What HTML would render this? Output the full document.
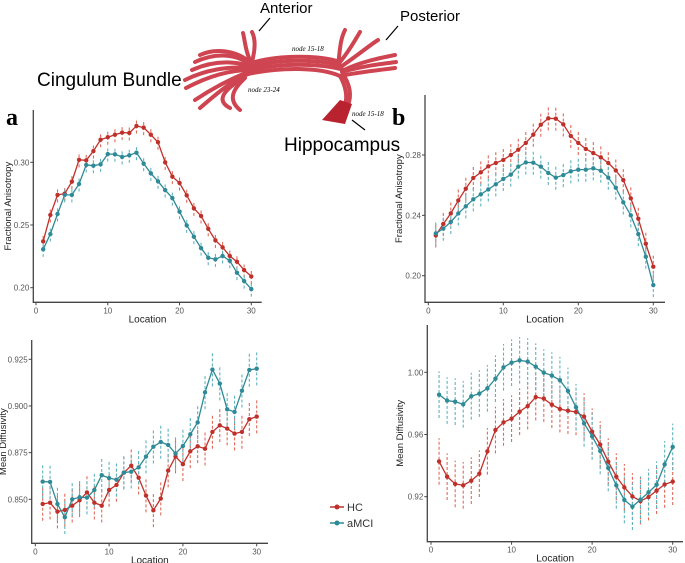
<!DOCTYPE html>
<html><head><meta charset="utf-8">
<style>
body{margin:0;background:#fff;}
svg{display:block;font-family:"Liberation Sans",sans-serif;}
</style></head>
<body>
<svg id="fig" width="685" height="563" viewBox="0 0 685 563">
<g id="illus">
  <g stroke="#c9303f" stroke-width="4" fill="none" stroke-linecap="round" opacity="0.9">
    <path d="M255 62 C280 55 320 55 340 62"/>
    <path d="M252 66 C280 59 320 59 342 66"/>
    <path d="M250 70 C280 63 320 63 344 70"/>
    <path d="M248 74 C280 67 320 67 340 76"/>
    <path d="M250 62 C235 50 215 48 200 55"/>
    <path d="M250 64 C232 52 212 54 195 62"/>
    <path d="M250 66 C230 60 210 62 192 70"/>
    <path d="M250 68 C228 66 205 70 185 80"/>
    <path d="M250 70 C228 70 205 78 186 88"/>
    <path d="M248 74 C230 82 215 95 200 108"/>
    <path d="M248 72 C228 80 210 90 195 100"/>
    <path d="M250 60 C245 50 245 40 243 33"/>
    <path d="M252 62 C255 50 256 40 252 32"/>
    <path d="M240 80 C225 90 215 100 230 108"/>
    <path d="M245 78 C232 90 228 100 240 110"/>
    <path d="M340 62 C350 50 355 40 360 32"/>
    <path d="M342 66 C358 55 370 45 378 40"/>
    <path d="M344 70 C360 62 380 58 395 55"/>
    <path d="M340 76 C360 72 380 70 395 68"/>
    <path d="M342 72 C362 66 382 64 396 62"/>
    <path d="M338 66 C340 50 340 40 345 30"/>
    <path d="M340 76 C345 85 348 95 345 105"/>
    <path d="M343 74 C350 85 352 95 348 105"/>
  </g>
  <path d="M340 100 L352 104 L345 124 L322 120 Z" fill="#b8232f"/>
  <text x="260" y="13" font-size="15">Anterior</text>
  <line x1="270" y1="18" x2="259" y2="31" stroke="#000" stroke-width="1.2"/>
  <text x="400" y="21" font-size="15">Posterior</text>
  <line x1="398" y1="26" x2="386" y2="40" stroke="#000" stroke-width="1.2"/>
  <text x="37" y="86" font-size="19">Cingulum Bundle</text>
  <text x="292" y="51" font-size="7" font-style="italic" font-family="Liberation Serif,serif">node 15-18</text>
  <text x="248" y="92" font-size="7" font-style="italic" font-family="Liberation Serif,serif">node 23-24</text>
  <text x="352" y="116" font-size="7" font-style="italic" font-family="Liberation Serif,serif">node 15-18</text>
  <line x1="365" y1="130" x2="352" y2="120" stroke="#000" stroke-width="1.2"/>
  <text x="284" y="151" font-size="19">Hippocampus</text>
  <text x="6" y="125" font-size="24" font-weight="bold" font-family="Liberation Serif,serif">a</text>
  <text x="392" y="125" font-size="24" font-weight="bold" font-family="Liberation Serif,serif">b</text>
</g>
<g id="legend">
  <g>
    <line x1="330" y1="507" x2="344" y2="507" stroke="#c0302a" stroke-width="1.5"/>
    <circle cx="337" cy="507" r="2.5" fill="#c0302a"/>
    <text x="347" y="511" font-size="11" fill="#333">HC</text>
  </g>
  <g>
    <line x1="330" y1="523" x2="344" y2="523" stroke="#2e8a96" stroke-width="1.5"/>
    <circle cx="337" cy="523" r="2.5" fill="#2e8a96"/>
    <text x="347" y="527" font-size="11" fill="#333">aMCI</text>
  </g>
</g>
</svg>
<script>
const locations = Array.from({length:30},(_,i)=>i+1);
const faA_HC = [0.237,0.258,0.274,0.275,0.2846,0.302,0.3016,0.309,0.318,0.320,0.322,0.3237,0.3234,0.329,0.3277,0.322,0.316,0.300,0.2886,0.2835,0.2737,0.2633,0.2572,0.247,0.2378,0.2322,0.2253,0.2207,0.2141,0.209];
const faA_MCI = [0.2306,0.2428,0.2588,0.274,0.274,0.2827,0.2979,0.2973,0.2984,0.3066,0.3064,0.3043,0.3056,0.3077,0.299,0.2912,0.2848,0.2779,0.2715,0.2606,0.2497,0.2407,0.2316,0.2239,0.2226,0.2253,0.2215,0.212,0.2053,0.1989];
const faB_HC = [0.2267,0.2343,0.2413,0.2499,0.2577,0.2648,0.2685,0.2725,0.2747,0.2767,0.28,0.2835,0.288,0.2935,0.3001,0.3043,0.3041,0.3003,0.2926,0.288,0.284,0.2813,0.2785,0.2747,0.2698,0.2634,0.2513,0.2378,0.2212,0.206];
const faB_MCI = [0.228,0.2312,0.2356,0.2413,0.246,0.2506,0.2539,0.2572,0.2606,0.2641,0.267,0.2723,0.2751,0.2749,0.2723,0.2681,0.265,0.2667,0.2692,0.2703,0.2703,0.2712,0.2696,0.265,0.2583,0.2486,0.24,0.2276,0.2126,0.1938];
const mdA_HC = [0.8475,0.8482,0.8434,0.8443,0.8466,0.8495,0.8537,0.8482,0.8466,0.855,0.8577,0.8643,0.868,0.8616,0.852,0.8441,0.8504,0.8654,0.8729,0.8688,0.8757,0.8784,0.8771,0.8861,0.8896,0.8879,0.8852,0.8861,0.8929,0.8943];
const mdA_MCI = [0.8595,0.8593,0.8475,0.8404,0.85,0.8511,0.8509,0.855,0.8629,0.8614,0.8605,0.8643,0.8648,0.8671,0.8729,0.8782,0.8807,0.8791,0.8745,0.8786,0.8848,0.8912,0.9073,0.9195,0.912,0.8982,0.8968,0.9082,0.9193,0.92];
const mdB_HC = [0.9427,0.9329,0.9282,0.9273,0.9303,0.9348,0.9492,0.9629,0.9678,0.9702,0.9747,0.9783,0.9841,0.9831,0.9792,0.9764,0.9753,0.9745,0.9715,0.9618,0.9535,0.9425,0.9329,0.926,0.9202,0.9172,0.9198,0.9239,0.9279,0.9297];
const mdB_MCI = [0.9856,0.9818,0.9811,0.9794,0.9846,0.9863,0.9897,0.9959,1.0032,1.0062,1.0077,1.0069,1.0036,0.9998,0.9979,0.9949,0.988,0.9775,0.9672,0.9588,0.9494,0.9385,0.9273,0.9179,0.9136,0.9181,0.9228,0.9277,0.9408,0.952];
const xTicks = [0,10,20,30];
const faA_ticks = [0.20,0.25,0.30];
const faB_ticks = [0.20,0.24,0.28];
const mdA_ticks = [0.850,0.875,0.900,0.925];
const mdB_ticks = [0.92,0.96,1.00];

const NS="http://www.w3.org/2000/svg";
const svg=document.getElementById('fig');
function mk(tag,attrs,parent){const e=document.createElementNS(NS,tag);for(const k in attrs)e.setAttribute(k,attrs[k]);parent.appendChild(e);return e;}
const RED="#c0302a",TEAL="#2e8a96",RED_L="#e06a5a",TEAL_L="#5fb3bd";

function panel(cfg){
  const g=mk('g',{},svg);
  
  
  const xs=v=>cfg.x0+(v-0)*(cfg.x30-cfg.x0)/30;
  const ys=v=>cfg.yA+(v-cfg.vA)*(cfg.yB-cfg.yA)/(cfg.vB-cfg.vA);
  const ax=mk('path',{d:`M${cfg.left} ${cfg.top} V${cfg.bottom} H${cfg.right}`,stroke:'#444','stroke-width':1.3,fill:'none'},g);
  
  
  xTicks.forEach(t=>{
    mk('line',{x1:xs(t),x2:xs(t),y1:cfg.bottom,y2:cfg.bottom+3,stroke:'#444'},g);
    const tx=mk('text',{x:xs(t),y:cfg.bottom+11,'font-size':8,fill:'#555','text-anchor':'middle'},g);
    tx.textContent=t;
    
    
  });
  cfg.yt.forEach(t=>{
    mk('line',{x1:cfg.left-3,x2:cfg.left,y1:ys(t),y2:ys(t),stroke:'#444'},g);
    const tx=mk('text',{x:cfg.left-4,y:ys(t)+3,'font-size':8,fill:'#555','text-anchor':'end'},g);
    tx.textContent=t.toFixed(cfg.dec);
    
    
  });
  const xl=mk('text',{x:(cfg.left+cfg.right)/2,y:cfg.bottom+20,'font-size':10,fill:'#222','text-anchor':'middle'},g);
  xl.textContent='Location';
  
  
  const yl=mk('text',{x:0,y:0,'font-size':9.5,fill:'#222','text-anchor':'middle',transform:`translate(${cfg.ylx},${(cfg.top+cfg.bottom)/2}) rotate(-90)`},g);
  yl.textContent=cfg.ytitle;
  
  
  [[cfg.hc,RED,RED_L,'hc'],[cfg.mci,TEAL,TEAL_L,'amci']].forEach(([arr,c,cl,nm])=>{
    arr.forEach((v,i)=>{
      const x=xs(locations[i]);
      const e=mk('line',{x1:x,x2:x,y1:ys(v-cfg.err),y2:ys(v+cfg.err),stroke:cl,'stroke-width':1.1,'stroke-dasharray':'3,2'},g);
      
      
    });
  });
  [[cfg.hc,RED,'hc'],[cfg.mci,TEAL,'amci']].forEach(([arr,c,nm])=>{
    const p=mk('polyline',{points:arr.map((v,i)=>xs(locations[i])+','+ys(v)).join(' '),stroke:c,'stroke-width':1.3,fill:'none'},g);
    
    
    arr.forEach((v,i)=>{
      const ci=mk('circle',{cx:xs(locations[i]),cy:ys(v),r:2.2,fill:c},g);
      
      
    });
  });
}
panel({name:'panel-a-fa',x0:36,x30:251.3,vA:0.30,yA:162.3,vB:0.20,yB:287.7,left:33.3,top:110,bottom:302.3,right:261.7,yt:faA_ticks,dec:2,ytitle:'Fractional Anisotropy',ylx:11,hc:faA_HC,mci:faA_MCI,err:0.006});
panel({name:'panel-b-fa',x0:428.3,x30:653.3,vA:0.28,yA:155,vB:0.20,yB:275.7,left:425,top:95,bottom:302.3,right:665,yt:faB_ticks,dec:2,ytitle:'Fractional Anisotropy',ylx:402,hc:faB_HC,mci:faB_MCI,err:0.008});
panel({name:'panel-a-md',x0:35.3,x30:256.7,vA:0.925,yA:359.3,vB:0.850,yB:499.3,left:31.7,top:340,bottom:543.3,right:268,yt:mdA_ticks,dec:3,ytitle:'Mean Diffusivity',ylx:6,hc:mdA_HC,mci:mdA_MCI,err:0.009});
panel({name:'panel-b-md',x0:431,x30:672.7,vA:1.00,yA:372.3,vB:0.92,yB:496.7,left:427.3,top:325,bottom:541.7,right:683,yt:mdB_ticks,dec:2,ytitle:'Mean Diffusivity',ylx:403,hc:mdB_HC,mci:mdB_MCI,err:0.015});
</script>
</body></html>
